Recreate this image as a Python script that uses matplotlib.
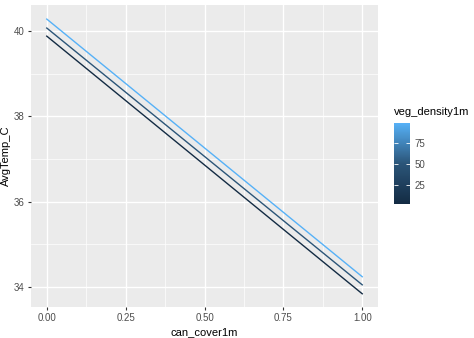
import numpy as np
import matplotlib
matplotlib.use("Agg")
import matplotlib.pyplot as plt
from matplotlib.colors import LinearSegmentedColormap, Normalize
from matplotlib.cm import ScalarMappable
from matplotlib.ticker import MultipleLocator

plt.rcParams['font.family'] = ['Liberation Sans', 'DejaVu Sans']

# predicted AvgTemp_C at can_cover1m = 0 and 1, for three veg_density1m levels
can_cover = [0.0, 1.0]
veg_levels = [2, 50, 99]
temp_start = [39.88, 40.07, 40.28]
temp_end = [33.84, 34.05, 34.24]
veg_min, veg_max = 2, 99
cbar_ticks = [25, 50, 75]

cmap = LinearSegmentedColormap.from_list("gg", ["#132B43", "#2B5579", "#56B1F7"])
norm = Normalize(veg_min, veg_max)

fig = plt.figure(figsize=(4.74, 3.38), dpi=100)
W, H = 474, 338
ax = fig.add_axes([31 / W, 1 - 307 / H, (378 - 31) / W, (307 - 5) / H])
ax.set_facecolor("#EBEBEB")
for s in ax.spines.values():
    s.set_visible(False)

for v, y0, y1 in zip(veg_levels, temp_start, temp_end):
    ax.plot(can_cover, [y0, y1], color=cmap(norm(v)), lw=1.0, zorder=3)

ax.set_xlim(-0.05, 1.05)
ax.set_ylim(33.53, 40.61)
ax.xaxis.set_major_locator(MultipleLocator(0.25))
ax.xaxis.set_minor_locator(MultipleLocator(0.125))
ax.yaxis.set_major_locator(MultipleLocator(2))
ax.yaxis.set_minor_locator(MultipleLocator(1))
ax.xaxis.set_major_formatter(plt.FuncFormatter(lambda v, p: f"{v:.2f}"))
ax.grid(which="major", color="white", lw=1.0, zorder=1)
ax.grid(which="minor", color="white", lw=0.5, zorder=1)
ax.set_axisbelow(True)
ax.tick_params(which="major", length=2.5, width=0.8, color="#333333",
               labelsize=7, labelcolor="#4D4D4D", pad=2)
ax.tick_params(which="minor", length=0)
ax.set_xlabel("can_cover1m", fontsize=8, color="black", labelpad=3)
ax.set_ylabel("AvgTemp_C", fontsize=8, color="black", labelpad=2)

cax = fig.add_axes([394 / W, 1 - 204 / H, 16 / W, (204 - 123) / H])
cb = fig.colorbar(ScalarMappable(norm=norm, cmap=cmap), cax=cax, ticks=cbar_ticks)
cb.outline.set_visible(False)
cax.tick_params(direction="in", color="white", length=3, width=0.6,
                left=True, right=True, labelsize=7, labelcolor="#4D4D4D", pad=3)
fig.text(394 / W, 1 - 117 / H, "veg_density1m", fontsize=8, ha="left", va="bottom")

fig.savefig("out.png", dpi=100)
